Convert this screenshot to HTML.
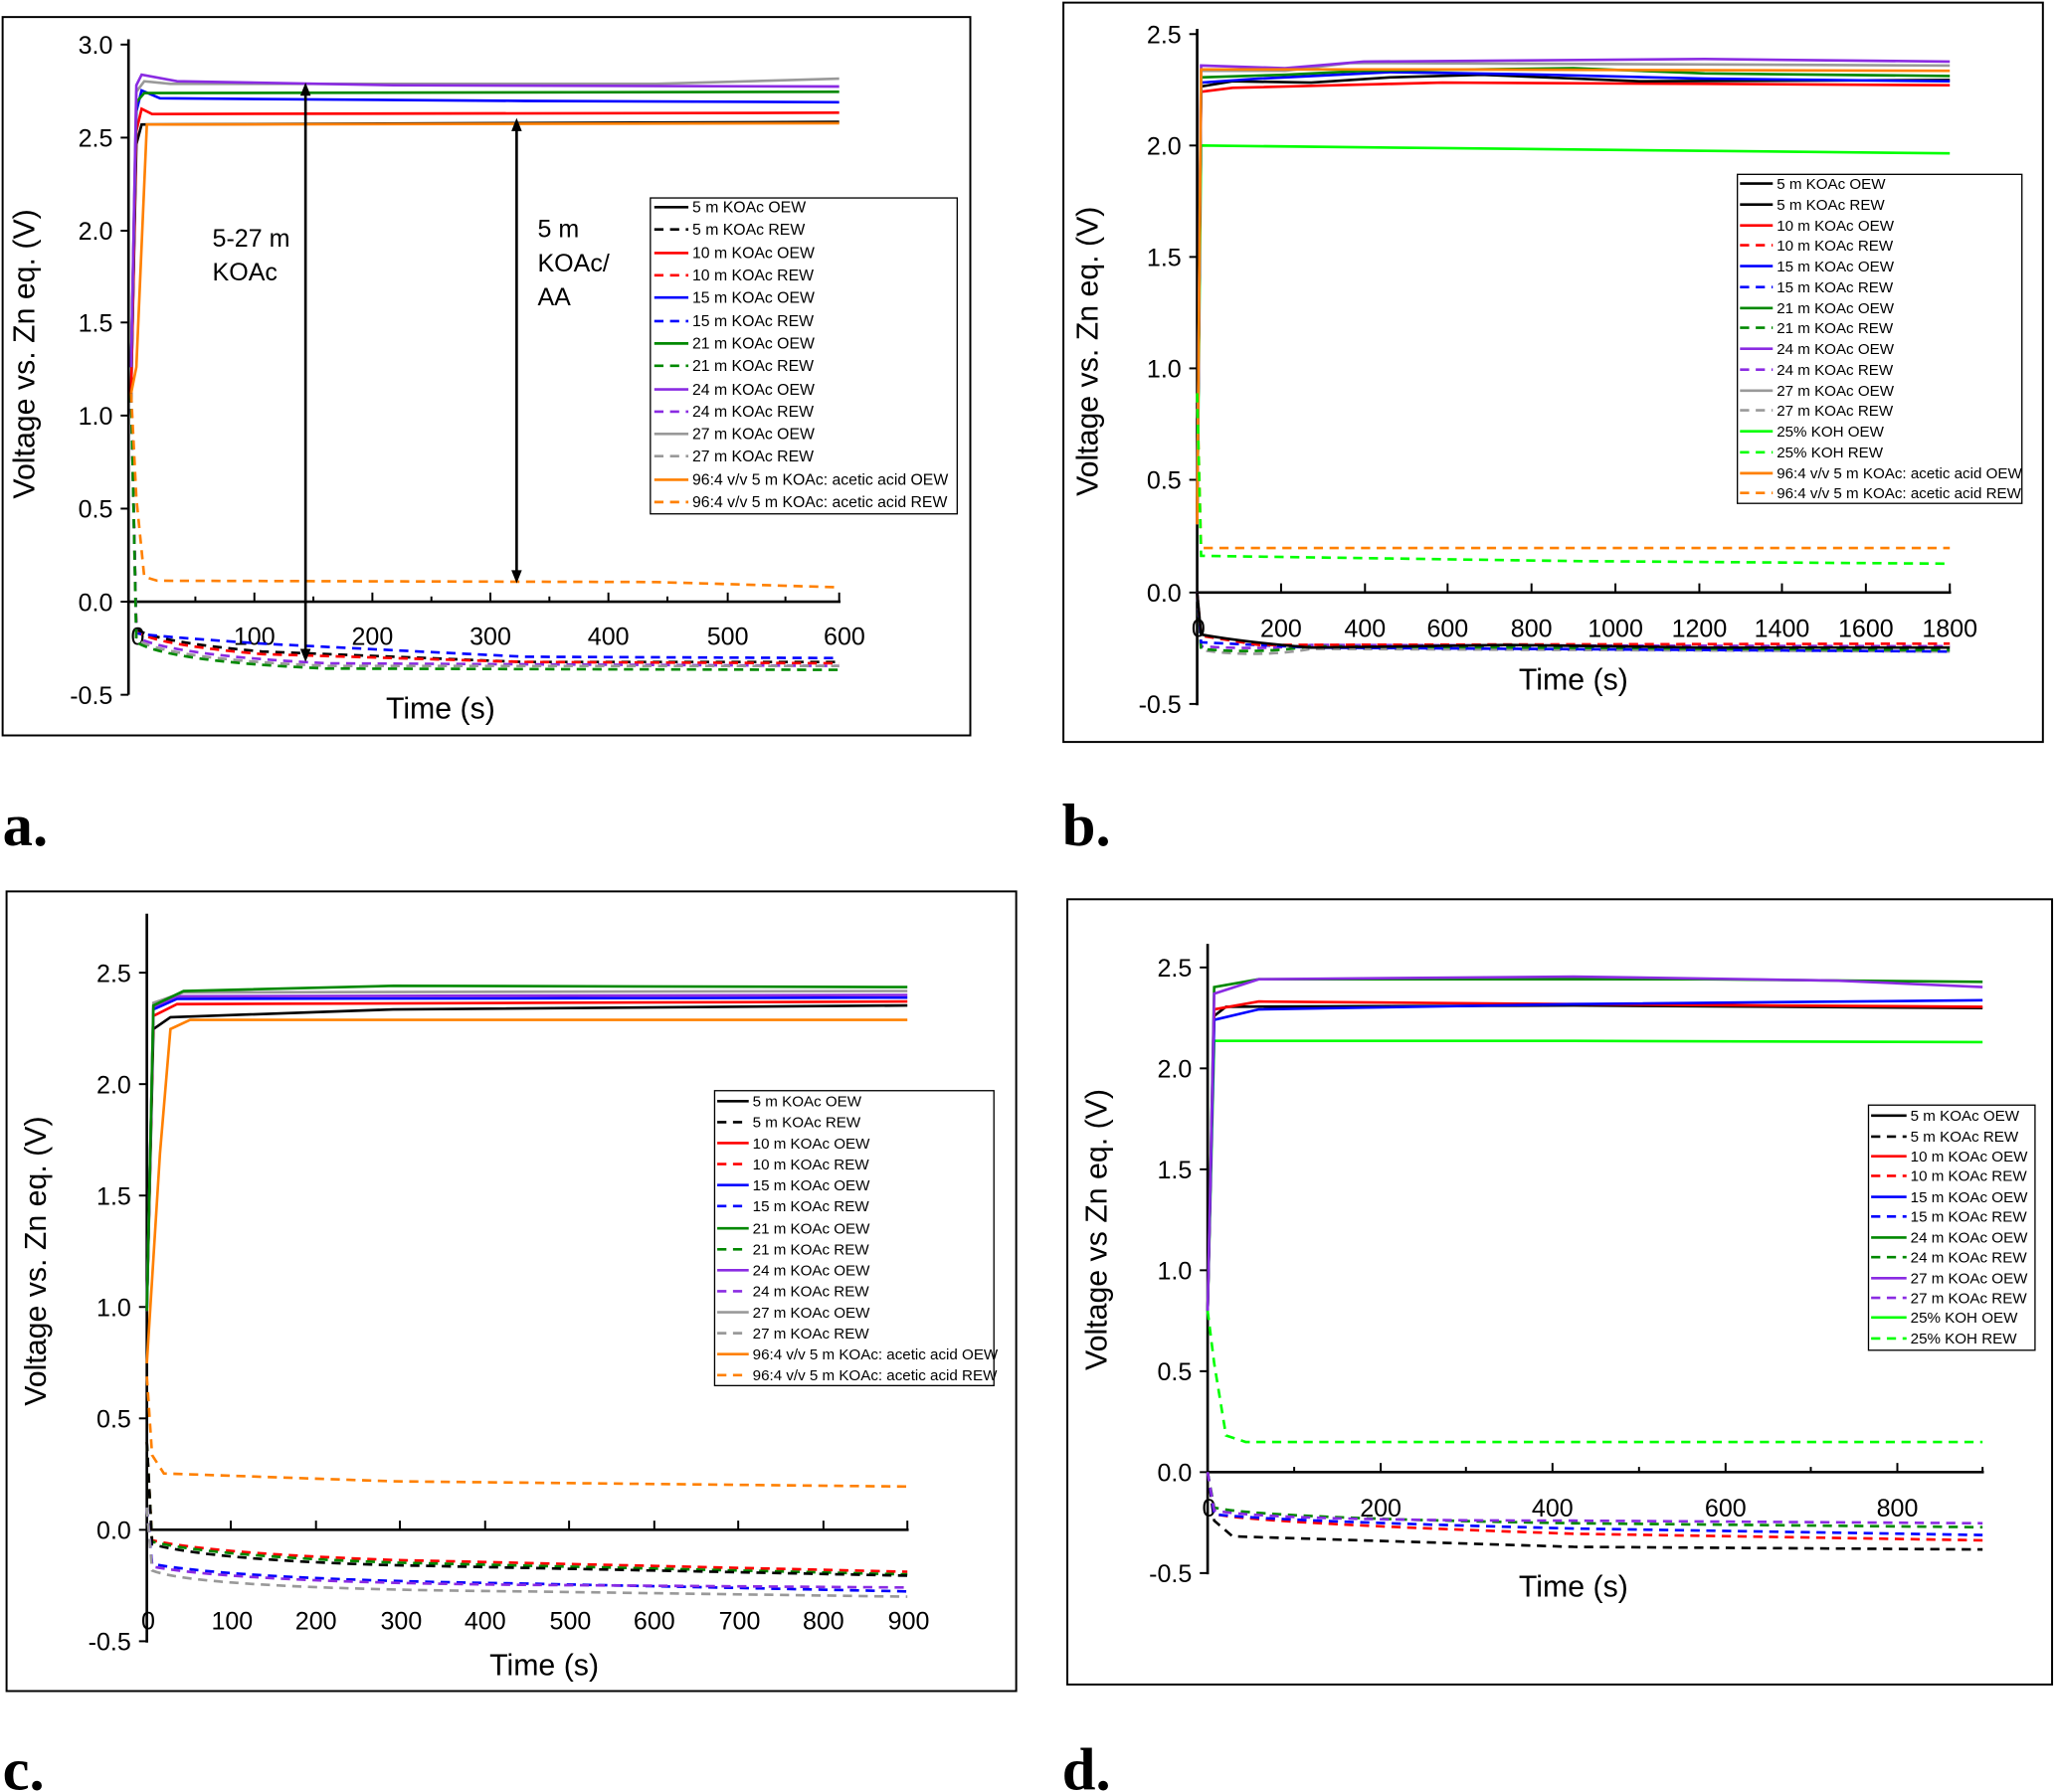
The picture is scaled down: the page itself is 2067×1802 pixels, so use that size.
<!DOCTYPE html>
<html><head><meta charset="utf-8"><style>
html,body{margin:0;padding:0;background:#fff;}
svg{display:block;}
text{font-family:"Liberation Sans",Arial,sans-serif;fill:#000;}
.t{font-size:19px;}
.ax{font-size:23px;}
.lg{font-size:12px;}
.pl{font-family:"Liberation Serif",serif;font-weight:bold;font-size:46px;}
.f{fill:none;stroke-width:2;}
.d{fill:none;stroke-width:2;stroke-dasharray:7,5;}
</style></head><body>
<svg width="2067" height="1802" viewBox="0 0 1568 1367" preserveAspectRatio="none" xmlns="http://www.w3.org/2000/svg">
<rect width="1568" height="1367" fill="#fff"/>

<!-- ================= PANEL A ================= -->
<rect x="2" y="13" width="738" height="548" fill="none" stroke="#000" stroke-width="1.5"/>
<g stroke="#000" stroke-width="2" fill="none">
<line x1="98" y1="30" x2="98" y2="530"/>
<line x1="98" y1="459" x2="641" y2="459"/>
</g>
<g stroke="#000" stroke-width="1.5">
<line x1="92" y1="34" x2="98" y2="34"/><line x1="92" y1="105" x2="98" y2="105"/><line x1="92" y1="176" x2="98" y2="176"/><line x1="92" y1="246" x2="98" y2="246"/><line x1="92" y1="317" x2="98" y2="317"/><line x1="92" y1="388" x2="98" y2="388"/><line x1="92" y1="459" x2="98" y2="459"/><line x1="92" y1="530" x2="98" y2="530"/>
<line x1="194" y1="459" x2="194" y2="452"/><line x1="284" y1="459" x2="284" y2="452"/><line x1="374" y1="459" x2="374" y2="452"/><line x1="464" y1="459" x2="464" y2="452"/><line x1="555" y1="459" x2="555" y2="452"/><line x1="640" y1="459" x2="640" y2="452"/>
<line x1="149" y1="459" x2="149" y2="455"/><line x1="239" y1="459" x2="239" y2="455"/><line x1="329" y1="459" x2="329" y2="455"/><line x1="419" y1="459" x2="419" y2="455"/><line x1="509" y1="459" x2="509" y2="455"/><line x1="599" y1="459" x2="599" y2="455"/>
</g>
<g class="t" text-anchor="end">
<text x="86" y="41">3.0</text><text x="86" y="112">2.5</text><text x="86" y="183">2.0</text><text x="86" y="253">1.5</text><text x="86" y="324">1.0</text><text x="86" y="395">0.5</text><text x="86" y="466">0.0</text><text x="86" y="537">-0.5</text>
</g>
<g class="t" text-anchor="middle">
<text x="105" y="492">0</text><text x="194" y="492">100</text><text x="284" y="492">200</text><text x="374" y="492">300</text><text x="464" y="492">400</text><text x="555" y="492">500</text><text x="644" y="492">600</text>
</g>
<text class="ax" x="336" y="548" text-anchor="middle">Time (s)</text>
<text class="ax" transform="translate(26,270) rotate(-90)" text-anchor="middle">Voltage vs. Zn eq. (V)</text>
<!-- series a -->
<path class="f" stroke="#000" d="M100,300 L104,110 L108,95 L640,93"/>
<path class="f" stroke="#f00" d="M100,300 L104,100 L108,83 L116,87 L640,86"/>
<path class="f" stroke="#00f" d="M100,280 L104,85 L108,69 L122,75 L400,77 L640,78"/>
<path class="f" stroke="#080" d="M100,280 L104,78 L110,71 L640,70"/>
<path class="f" stroke="#999" d="M100,280 L104,70 L110,62 L130,64 L500,64 L640,60"/>
<path class="f" stroke="#8a2be2" d="M100,280 L104,65 L108,57 L135,62 L300,65 L640,66"/>
<path class="f" stroke="#ff8000" d="M100,300 L104,280 L112,95 L640,94"/>
<path class="d" stroke="#000" d="M100,300 L104,480 Q120,490 200,497 L400,505 L640,505"/>
<path class="d" stroke="#f00" d="M100,300 L104,482 Q120,492 200,499 L400,505 L640,506"/>
<path class="d" stroke="#00f" d="M100,300 L104,483 Q112,485 200,491 L400,501 L640,502"/>
<path class="d" stroke="#8a2be2" d="M100,300 L104,486 Q130,500 250,506 L640,508"/>
<path class="d" stroke="#999" d="M100,300 L104,488 Q130,503 250,508 L640,508"/>
<path class="d" stroke="#080" d="M100,300 L104,490 Q130,505 250,510 L640,511"/>
<path class="d" stroke="#ff8000" d="M100,300 L104,380 L110,440 L120,443 L500,444 L640,448"/>
<!-- arrows -->
<g stroke="#000" stroke-width="2"><line x1="233" y1="70" x2="233" y2="500"/><line x1="394" y1="97" x2="394" y2="438"/></g>
<path d="M233,63 L229,73 L237,73Z M233,505 L229,495 L237,495Z M394,90 L390,100 L398,100Z M394,445 L390,435 L398,435Z" fill="#000"/>
<g style="font-size:19px"><text x="162" y="188">5-27 m</text><text x="162" y="214">KOAc</text>
<text x="410" y="181">5 m</text><text x="410" y="207">KOAc/</text><text x="410" y="233">AA</text></g>
<!-- legend a -->
<rect x="496" y="151" width="234" height="241" fill="#fff" stroke="#000" stroke-width="1"/>
<g>
<line class="f" stroke="#000" x1="499" y1="158" x2="525" y2="158"/>
<line class="d" stroke="#000" x1="499" y1="175" x2="525" y2="175"/>
<line class="f" stroke="#f00" x1="499" y1="193" x2="525" y2="193"/>
<line class="d" stroke="#f00" x1="499" y1="210" x2="525" y2="210"/>
<line class="f" stroke="#00f" x1="499" y1="227" x2="525" y2="227"/>
<line class="d" stroke="#00f" x1="499" y1="245" x2="525" y2="245"/>
<line class="f" stroke="#080" x1="499" y1="262" x2="525" y2="262"/>
<line class="d" stroke="#080" x1="499" y1="279" x2="525" y2="279"/>
<line class="f" stroke="#8a2be2" x1="499" y1="297" x2="525" y2="297"/>
<line class="d" stroke="#8a2be2" x1="499" y1="314" x2="525" y2="314"/>
<line class="f" stroke="#999" x1="499" y1="331" x2="525" y2="331"/>
<line class="d" stroke="#999" x1="499" y1="348" x2="525" y2="348"/>
<line class="f" stroke="#ff8000" x1="499" y1="366" x2="525" y2="366"/>
<line class="d" stroke="#ff8000" x1="499" y1="383" x2="525" y2="383"/>
</g>
<g class="lg">
<text x="528" y="162">5 m KOAc OEW</text><text x="528" y="179">5 m KOAc REW</text><text x="528" y="197">10 m KOAc OEW</text><text x="528" y="214">10 m KOAc REW</text><text x="528" y="231">15 m KOAc OEW</text><text x="528" y="249">15 m KOAc REW</text><text x="528" y="266">21 m KOAc OEW</text><text x="528" y="283">21 m KOAc REW</text><text x="528" y="301">24 m KOAc OEW</text><text x="528" y="318">24 m KOAc REW</text><text x="528" y="335">27 m KOAc OEW</text><text x="528" y="352">27 m KOAc REW</text><text x="528" y="370">96:4 v/v 5 m KOAc: acetic acid OEW</text><text x="528" y="387">96:4 v/v 5 m KOAc: acetic acid REW</text>
</g>
<text class="pl" x="2" y="645">a.</text>

<!-- ================= PANEL B ================= -->
<rect x="811" y="2" width="747" height="564" fill="none" stroke="#000" stroke-width="1.5"/>
<g stroke="#000" stroke-width="2"><line x1="913" y1="22" x2="913" y2="538"/><line x1="913" y1="452" x2="1488" y2="452"/></g>
<g stroke="#000" stroke-width="1.5">
<line x1="907" y1="26" x2="913" y2="26"/><line x1="907" y1="111" x2="913" y2="111"/><line x1="907" y1="196" x2="913" y2="196"/><line x1="907" y1="281" x2="913" y2="281"/><line x1="907" y1="366" x2="913" y2="366"/><line x1="907" y1="452" x2="913" y2="452"/><line x1="907" y1="537" x2="913" y2="537"/>
<line x1="977" y1="452" x2="977" y2="445"/><line x1="1041" y1="452" x2="1041" y2="445"/><line x1="1104" y1="452" x2="1104" y2="445"/><line x1="1168" y1="452" x2="1168" y2="445"/><line x1="1232" y1="452" x2="1232" y2="445"/><line x1="1296" y1="452" x2="1296" y2="445"/><line x1="1359" y1="452" x2="1359" y2="445"/><line x1="1423" y1="452" x2="1423" y2="445"/><line x1="1487" y1="452" x2="1487" y2="445"/>
</g>
<g class="t" text-anchor="end">
<text x="901" y="33">2.5</text><text x="901" y="118">2.0</text><text x="901" y="203">1.5</text><text x="901" y="288">1.0</text><text x="901" y="373">0.5</text><text x="901" y="459">0.0</text><text x="901" y="544">-0.5</text>
</g>
<g class="t" text-anchor="middle">
<text x="914" y="486">0</text><text x="977" y="486">200</text><text x="1041" y="486">400</text><text x="1104" y="486">600</text><text x="1168" y="486">800</text><text x="1232" y="486">1000</text><text x="1296" y="486">1200</text><text x="1359" y="486">1400</text><text x="1423" y="486">1600</text><text x="1487" y="486">1800</text>
</g>
<text class="ax" x="1200" y="526" text-anchor="middle">Time (s)</text>
<text class="ax" transform="translate(837,268) rotate(-90)" text-anchor="middle">Voltage vs. Zn eq. (V)</text>
<path class="f" stroke="#0f0" d="M913,400 L916,111 L1100,113 L1487,117"/>
<path class="f" stroke="#f00" d="M913,400 L916,70 L940,67 L1100,63 L1300,64 L1487,65"/>
<path class="f" stroke="#000" d="M913,400 L916,66 L940,62 L1000,63 L1060,59 L1130,57 L1250,62 L1487,61"/>
<path class="f" stroke="#00f" d="M913,400 L916,63 L960,60 L1060,55 L1180,57 L1300,60 L1487,62"/>
<path class="f" stroke="#080" d="M913,400 L916,59 L980,57 L1040,54 L1200,52 L1300,56 L1487,58"/>
<path class="f" stroke="#999" d="M913,400 L916,54 L980,54 L1030,48 L1487,50"/>
<path class="f" stroke="#8a2be2" d="M913,400 L916,50 L980,52 L1040,47 L1300,45 L1487,47"/>
<path class="f" stroke="#ff8000" d="M913,400 L916,53 L1100,53 L1487,54"/>
<path class="d" stroke="#ff8000" d="M913,300 L916,418 L1487,418"/>
<path class="d" stroke="#0f0" d="M913,300 L916,424 L1200,428 L1487,430"/>
<path class="d" stroke="#999" d="M913,452 L916,496 Q960,502 1000,495 L1487,497"/>
<path class="d" stroke="#8a2be2" d="M913,452 L916,493 Q960,496 1000,492 L1487,493"/>
<path class="d" stroke="#080" d="M913,452 L916,495 Q960,499 1000,493 L1487,496"/>
<path class="d" stroke="#00f" d="M913,452 L916,490 L1000,494 L1487,497"/>
<path class="d" stroke="#f00" d="M913,452 L916,485 L960,492 L1487,491"/>
<path class="f" stroke="#000" d="M913,452 L916,484 Q950,490 1000,494 L1150,492 L1300,494 L1487,494"/>
<rect x="1325" y="133" width="217" height="251" fill="#fff" stroke="#000" stroke-width="1"/>
<g>
<line class="f" stroke="#000" x1="1327" y1="140" x2="1352" y2="140"/>
<line class="f" stroke="#000" x1="1327" y1="156" x2="1352" y2="156"/>
<line class="f" stroke="#f00" x1="1327" y1="172" x2="1352" y2="172"/>
<line class="d" stroke="#f00" x1="1327" y1="187" x2="1352" y2="187"/>
<line class="f" stroke="#00f" x1="1327" y1="203" x2="1352" y2="203"/>
<line class="d" stroke="#00f" x1="1327" y1="219" x2="1352" y2="219"/>
<line class="f" stroke="#080" x1="1327" y1="235" x2="1352" y2="235"/>
<line class="d" stroke="#080" x1="1327" y1="250" x2="1352" y2="250"/>
<line class="f" stroke="#8a2be2" x1="1327" y1="266" x2="1352" y2="266"/>
<line class="d" stroke="#8a2be2" x1="1327" y1="282" x2="1352" y2="282"/>
<line class="f" stroke="#999" x1="1327" y1="298" x2="1352" y2="298"/>
<line class="d" stroke="#999" x1="1327" y1="313" x2="1352" y2="313"/>
<line class="f" stroke="#0f0" x1="1327" y1="329" x2="1352" y2="329"/>
<line class="d" stroke="#0f0" x1="1327" y1="345" x2="1352" y2="345"/>
<line class="f" stroke="#ff8000" x1="1327" y1="361" x2="1352" y2="361"/>
<line class="d" stroke="#ff8000" x1="1327" y1="376" x2="1352" y2="376"/>
</g>
<g class="lg" style="font-size:11.5px">
<text x="1355" y="144">5 m KOAc OEW</text><text x="1355" y="160">5 m KOAc REW</text><text x="1355" y="176">10 m KOAc OEW</text><text x="1355" y="191">10 m KOAc REW</text><text x="1355" y="207">15 m KOAc OEW</text><text x="1355" y="223">15 m KOAc REW</text><text x="1355" y="239">21 m KOAc OEW</text><text x="1355" y="254">21 m KOAc REW</text><text x="1355" y="270">24 m KOAc OEW</text><text x="1355" y="286">24 m KOAc REW</text><text x="1355" y="302">27 m KOAc OEW</text><text x="1355" y="317">27 m KOAc REW</text><text x="1355" y="333">25% KOH OEW</text><text x="1355" y="349">25% KOH REW</text><text x="1355" y="365">96:4 v/v 5 m KOAc: acetic acid OEW</text><text x="1355" y="380">96:4 v/v 5 m KOAc: acetic acid REW</text>
</g>
<text class="pl" x="810" y="645">b.</text>

<!-- ================= PANEL C ================= -->
<rect x="5" y="680" width="770" height="610" fill="none" stroke="#000" stroke-width="1.5"/>
<g stroke="#000" stroke-width="2"><line x1="112" y1="697" x2="112" y2="1253"/><line x1="112" y1="1167" x2="693" y2="1167"/></g>
<g stroke="#000" stroke-width="1.5">
<line x1="106" y1="742" x2="112" y2="742"/><line x1="106" y1="827" x2="112" y2="827"/><line x1="106" y1="912" x2="112" y2="912"/><line x1="106" y1="997" x2="112" y2="997"/><line x1="106" y1="1082" x2="112" y2="1082"/><line x1="106" y1="1167" x2="112" y2="1167"/><line x1="106" y1="1252" x2="112" y2="1252"/>
<line x1="176" y1="1167" x2="176" y2="1160"/><line x1="241" y1="1167" x2="241" y2="1160"/><line x1="305" y1="1167" x2="305" y2="1160"/><line x1="370" y1="1167" x2="370" y2="1160"/><line x1="434" y1="1167" x2="434" y2="1160"/><line x1="499" y1="1167" x2="499" y2="1160"/><line x1="563" y1="1167" x2="563" y2="1160"/><line x1="628" y1="1167" x2="628" y2="1160"/><line x1="692" y1="1167" x2="692" y2="1160"/>
</g>
<g class="t" text-anchor="end">
<text x="100" y="749">2.5</text><text x="100" y="834">2.0</text><text x="100" y="919">1.5</text><text x="100" y="1004">1.0</text><text x="100" y="1089">0.5</text><text x="100" y="1174">0.0</text><text x="100" y="1259">-0.5</text>
</g>
<g class="t" text-anchor="middle">
<text x="113" y="1243">0</text><text x="177" y="1243">100</text><text x="241" y="1243">200</text><text x="306" y="1243">300</text><text x="370" y="1243">400</text><text x="435" y="1243">500</text><text x="499" y="1243">600</text><text x="564" y="1243">700</text><text x="628" y="1243">800</text><text x="693" y="1243">900</text>
</g>
<text class="ax" x="415" y="1278" text-anchor="middle">Time (s)</text>
<text class="ax" transform="translate(35,962) rotate(-90)" text-anchor="middle">Voltage vs. Zn eq. (V)</text>
<path class="f" stroke="#ff8000" d="M112,1040 L122,880 L130,785 L145,778 L692,778"/>
<path class="f" stroke="#000" d="M112,1000 L117,785 L130,776 L300,770 L692,767"/>
<path class="f" stroke="#f00" d="M112,1000 L117,775 L135,766 L692,764"/>
<path class="f" stroke="#00f" d="M112,1000 L117,770 L135,762 L692,761"/>
<path class="f" stroke="#8a2be2" d="M112,1000 L117,768 L135,760 L692,759"/>
<path class="f" stroke="#999" d="M112,1000 L117,765 L140,757 L692,756"/>
<path class="f" stroke="#080" d="M112,1000 L117,767 L140,756 L300,752 L692,753"/>
<path class="d" stroke="#ff8000" d="M112,1050 L116,1110 L125,1124 L300,1130 L692,1134"/>
<path class="d" stroke="#f00" d="M112,1100 L116,1175 Q160,1185 300,1190 L692,1199"/>
<path class="d" stroke="#080" d="M112,1100 L116,1176 Q160,1187 300,1192 L692,1201"/>
<path class="d" stroke="#000" d="M112,1100 L116,1178 Q160,1190 300,1194 L692,1202"/>
<path class="d" stroke="#00f" d="M112,1150 L116,1193 Q180,1205 400,1208 L692,1214"/>
<path class="d" stroke="#8a2be2" d="M112,1150 L116,1195 Q180,1207 400,1209 L692,1211"/>
<path class="d" stroke="#999" d="M112,1150 L116,1198 Q150,1212 400,1214 L692,1218"/>
<rect x="545" y="832" width="213" height="225" fill="#fff" stroke="#000" stroke-width="1"/>
<g>
<line class="f" stroke="#000" x1="547" y1="840" x2="571" y2="840"/>
<line class="d" stroke="#000" x1="547" y1="856" x2="571" y2="856"/>
<line class="f" stroke="#f00" x1="547" y1="872" x2="571" y2="872"/>
<line class="d" stroke="#f00" x1="547" y1="888" x2="571" y2="888"/>
<line class="f" stroke="#00f" x1="547" y1="904" x2="571" y2="904"/>
<line class="d" stroke="#00f" x1="547" y1="920" x2="571" y2="920"/>
<line class="f" stroke="#080" x1="547" y1="937" x2="571" y2="937"/>
<line class="d" stroke="#080" x1="547" y1="953" x2="571" y2="953"/>
<line class="f" stroke="#8a2be2" x1="547" y1="969" x2="571" y2="969"/>
<line class="d" stroke="#8a2be2" x1="547" y1="985" x2="571" y2="985"/>
<line class="f" stroke="#999" x1="547" y1="1001" x2="571" y2="1001"/>
<line class="d" stroke="#999" x1="547" y1="1017" x2="571" y2="1017"/>
<line class="f" stroke="#ff8000" x1="547" y1="1033" x2="571" y2="1033"/>
<line class="d" stroke="#ff8000" x1="547" y1="1049" x2="571" y2="1049"/>
</g>
<g class="lg" style="font-size:11.5px">
<text x="574" y="844">5 m KOAc OEW</text><text x="574" y="860">5 m KOAc REW</text><text x="574" y="876">10 m KOAc OEW</text><text x="574" y="892">10 m KOAc REW</text><text x="574" y="908">15 m KOAc OEW</text><text x="574" y="924">15 m KOAc REW</text><text x="574" y="941">21 m KOAc OEW</text><text x="574" y="957">21 m KOAc REW</text><text x="574" y="973">24 m KOAc OEW</text><text x="574" y="989">24 m KOAc REW</text><text x="574" y="1005">27 m KOAc OEW</text><text x="574" y="1021">27 m KOAc REW</text><text x="574" y="1037">96:4 v/v 5 m KOAc: acetic acid OEW</text><text x="574" y="1053">96:4 v/v 5 m KOAc: acetic acid REW</text>
</g>
<text class="pl" x="2" y="1365">c.</text>

<!-- ================= PANEL D ================= -->
<rect x="814" y="686" width="751" height="599" fill="none" stroke="#000" stroke-width="1.5"/>
<g stroke="#000" stroke-width="2"><line x1="921" y1="720" x2="921" y2="1201"/><line x1="921" y1="1123" x2="1513" y2="1123"/></g>
<g stroke="#000" stroke-width="1.5">
<line x1="915" y1="738" x2="921" y2="738"/><line x1="915" y1="815" x2="921" y2="815"/><line x1="915" y1="892" x2="921" y2="892"/><line x1="915" y1="969" x2="921" y2="969"/><line x1="915" y1="1046" x2="921" y2="1046"/><line x1="915" y1="1123" x2="921" y2="1123"/><line x1="915" y1="1200" x2="921" y2="1200"/>
<line x1="1053" y1="1123" x2="1053" y2="1116"/><line x1="1184" y1="1123" x2="1184" y2="1116"/><line x1="1316" y1="1123" x2="1316" y2="1116"/><line x1="1447" y1="1123" x2="1447" y2="1116"/>
<line x1="987" y1="1123" x2="987" y2="1119"/><line x1="1118" y1="1123" x2="1118" y2="1119"/><line x1="1250" y1="1123" x2="1250" y2="1119"/><line x1="1381" y1="1123" x2="1381" y2="1119"/><line x1="1512" y1="1123" x2="1512" y2="1119"/>
</g>
<g class="t" text-anchor="end">
<text x="909" y="745">2.5</text><text x="909" y="822">2.0</text><text x="909" y="899">1.5</text><text x="909" y="976">1.0</text><text x="909" y="1053">0.5</text><text x="909" y="1130">0.0</text><text x="909" y="1207">-0.5</text>
</g>
<g class="t" text-anchor="middle">
<text x="922" y="1157">0</text><text x="1053" y="1157">200</text><text x="1184" y="1157">400</text><text x="1316" y="1157">600</text><text x="1447" y="1157">800</text>
</g>
<text class="ax" x="1200" y="1218" text-anchor="middle">Time (s)</text>
<text class="ax" transform="translate(844,938) rotate(-90)" text-anchor="middle">Voltage vs Zn eq. (V)</text>
<path class="f" stroke="#0f0" d="M921,1000 L926,794 L1200,794 L1512,795"/>
<path class="f" stroke="#000" d="M921,1000 L926,775 L935,768 L1200,767 L1512,769"/>
<path class="f" stroke="#f00" d="M921,1000 L926,770 L960,764 L1200,766 L1512,768"/>
<path class="f" stroke="#00f" d="M921,1000 L926,778 L960,770 L1200,766 L1512,763"/>
<path class="f" stroke="#080" d="M921,1000 L926,753 L960,747 L1300,747 L1512,749"/>
<path class="f" stroke="#8a2be2" d="M921,1000 L926,758 L960,747 L1200,745 L1400,748 L1512,753"/>
<path class="d" stroke="#0f0" d="M921,1000 L926,1040 L935,1095 L950,1100 L1512,1100"/>
<path class="d" stroke="#000" d="M921,1123 L926,1160 L940,1172 L1200,1180 L1512,1182"/>
<path class="d" stroke="#f00" d="M921,1123 L926,1155 Q960,1162 1200,1170 L1512,1175"/>
<path class="d" stroke="#00f" d="M921,1123 L926,1155 Q960,1160 1200,1166 L1512,1171"/>
<path class="d" stroke="#080" d="M921,1123 L926,1150 Q960,1158 1200,1162 L1512,1165"/>
<path class="d" stroke="#8a2be2" d="M921,1123 L926,1152 Q960,1160 1200,1160 L1512,1162"/>
<rect x="1425" y="843" width="127" height="187" fill="#fff" stroke="#000" stroke-width="1"/>
<g>
<line class="f" stroke="#000" x1="1427" y1="851" x2="1454" y2="851"/>
<line class="d" stroke="#000" x1="1427" y1="867" x2="1454" y2="867"/>
<line class="f" stroke="#f00" x1="1427" y1="882" x2="1454" y2="882"/>
<line class="d" stroke="#f00" x1="1427" y1="897" x2="1454" y2="897"/>
<line class="f" stroke="#00f" x1="1427" y1="913" x2="1454" y2="913"/>
<line class="d" stroke="#00f" x1="1427" y1="928" x2="1454" y2="928"/>
<line class="f" stroke="#080" x1="1427" y1="944" x2="1454" y2="944"/>
<line class="d" stroke="#080" x1="1427" y1="959" x2="1454" y2="959"/>
<line class="f" stroke="#8a2be2" x1="1427" y1="975" x2="1454" y2="975"/>
<line class="d" stroke="#8a2be2" x1="1427" y1="990" x2="1454" y2="990"/>
<line class="f" stroke="#0f0" x1="1427" y1="1005" x2="1454" y2="1005"/>
<line class="d" stroke="#0f0" x1="1427" y1="1021" x2="1454" y2="1021"/>
</g>
<g class="lg" style="font-size:11.5px">
<text x="1457" y="855">5 m KOAc OEW</text><text x="1457" y="871">5 m KOAc REW</text><text x="1457" y="886">10 m KOAc OEW</text><text x="1457" y="901">10 m KOAc REW</text><text x="1457" y="917">15 m KOAc OEW</text><text x="1457" y="932">15 m KOAc REW</text><text x="1457" y="948">24 m KOAc OEW</text><text x="1457" y="963">24 m KOAc REW</text><text x="1457" y="979">27 m KOAc OEW</text><text x="1457" y="994">27 m KOAc REW</text><text x="1457" y="1009">25% KOH OEW</text><text x="1457" y="1025">25% KOH REW</text>
</g>
<text class="pl" x="810" y="1365">d.</text>
</svg>
</body></html>
